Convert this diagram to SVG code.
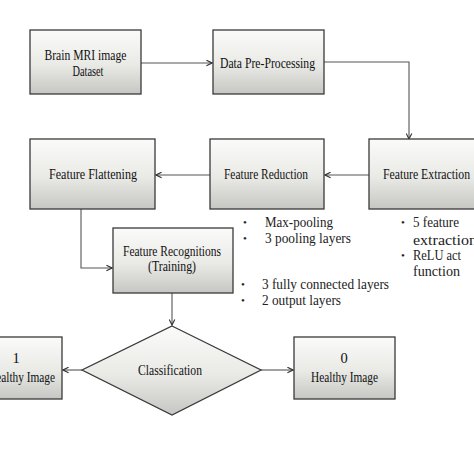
<svg xmlns="http://www.w3.org/2000/svg" width="474" height="474" viewBox="0 0 474 474">
<defs>
<linearGradient id="g" x1="0" y1="0" x2="0" y2="1">
<stop offset="0" stop-color="#fbfbf9"/>
<stop offset="0.55" stop-color="#e9e9e6"/>
<stop offset="1" stop-color="#c6c7c3"/>
</linearGradient>
<marker id="a" viewBox="0 0 10 10" refX="9" refY="5" markerWidth="7" markerHeight="7" markerUnits="userSpaceOnUse" orient="auto">
<path d="M1,1 L9,5 L1,9" fill="none" stroke="#333" stroke-width="1.6"/>
</marker>
</defs>
<style>
.b{fill:url(#g);stroke:#3a3a3a;stroke-width:1.3}
text{font-family:'Liberation Serif','Times New Roman','DejaVu Serif',serif}
.t{font-size:14.5px;fill:#111;text-anchor:middle}
.l{font-size:14px;fill:#222}
.d{font-size:11px;fill:#222}
.c{fill:none;stroke:#555;stroke-width:1.1;marker-end:url(#a)}
</style>
<rect width="474" height="474" fill="#fff"/>
<g id="connectors">
<path class="c" d="M141,63 H212"/>
<path class="c" d="M324,62 H409 V139"/>
<path class="c" d="M369,175 H325"/>
<path class="c" d="M210,175 H156"/>
<path class="c" d="M81,209 V268 H112"/>
<path class="c" d="M172,293 V325"/>
<path class="c" d="M82,370 H63"/>
<path class="c" d="M261,370 H293"/>
</g>
<g id="brain-mri">
<rect class="b" x="30" y="30" width="111" height="64"/>
<text class="t" x="85.5" y="60" textLength="82" lengthAdjust="spacingAndGlyphs">Brain MRI image</text>
<text class="t" x="88" y="76" textLength="31" lengthAdjust="spacingAndGlyphs">Dataset</text>
</g>
<g id="preprocessing">
<rect class="b" x="213" y="30" width="111" height="64"/>
<text class="t" x="267.5" y="68" textLength="95" lengthAdjust="spacingAndGlyphs">Data Pre-Processing</text>
</g>
<g id="flattening">
<rect class="b" x="30" y="139" width="125" height="70"/>
<text class="t" x="93" y="179" textLength="88" lengthAdjust="spacingAndGlyphs">Feature  Flattening</text>
</g>
<g id="reduction">
<rect class="b" x="210" y="139" width="114" height="70"/>
<text class="t" x="266" y="179" textLength="84" lengthAdjust="spacingAndGlyphs">Feature Reduction</text>
</g>
<g id="extraction">
<rect class="b" x="369" y="139" width="120" height="70"/>
<text class="t" x="426.5" y="179" textLength="87" lengthAdjust="spacingAndGlyphs">Feature Extraction</text>
</g>
<g id="recognition">
<rect class="b" x="113" y="228" width="120" height="65"/>
<text class="t" x="172" y="256" textLength="98" lengthAdjust="spacingAndGlyphs">Feature Recognitions</text>
<text class="t" x="172" y="271" textLength="48" lengthAdjust="spacingAndGlyphs">(Training)</text>
</g>
<g id="classification">
<polygon class="b" points="172,326 261,370 172,415 82,370"/>
<text class="t" x="170" y="375" textLength="64" lengthAdjust="spacingAndGlyphs">Classification</text>
</g>
<g id="unhealthy">
<rect class="b" x="-20" y="337" width="82" height="62"/>
<text class="t" x="16" y="363">1</text>
<text class="t" x="21.5" y="382" textLength="67" lengthAdjust="spacingAndGlyphs">Healthy Image</text>
</g>
<g id="healthy">
<rect class="b" x="294" y="337" width="101" height="62"/>
<text class="t" x="344" y="363">0</text>
<text class="t" x="344.5" y="382" textLength="67" lengthAdjust="spacingAndGlyphs">Healthy Image</text>
</g>
<g id="notes">
<text class="d" x="243" y="226">•</text>
<text class="l" x="265" y="227" textLength="68" lengthAdjust="spacingAndGlyphs">Max-pooling</text>
<text class="d" x="243" y="242">•</text>
<text class="l" x="265" y="243" textLength="86" lengthAdjust="spacingAndGlyphs">3 pooling layers</text>
<text class="d" x="401" y="226">•</text>
<text class="l" x="413" y="227" textLength="46" lengthAdjust="spacingAndGlyphs">5 feature</text>
<text class="l" x="413" y="245" textLength="64" lengthAdjust="spacingAndGlyphs">extraction</text>
<text class="d" x="401" y="259">•</text>
<text class="l" x="413" y="260" textLength="48" lengthAdjust="spacingAndGlyphs">ReLU act</text>
<text class="l" x="413" y="276" textLength="47" lengthAdjust="spacingAndGlyphs">function</text>
<text class="d" x="241" y="288">•</text>
<text class="l" x="262" y="289" textLength="127" lengthAdjust="spacingAndGlyphs">3 fully connected layers</text>
<text class="d" x="241" y="304">•</text>
<text class="l" x="262" y="305" textLength="79" lengthAdjust="spacingAndGlyphs">2 output layers</text>
</g>
</svg>
